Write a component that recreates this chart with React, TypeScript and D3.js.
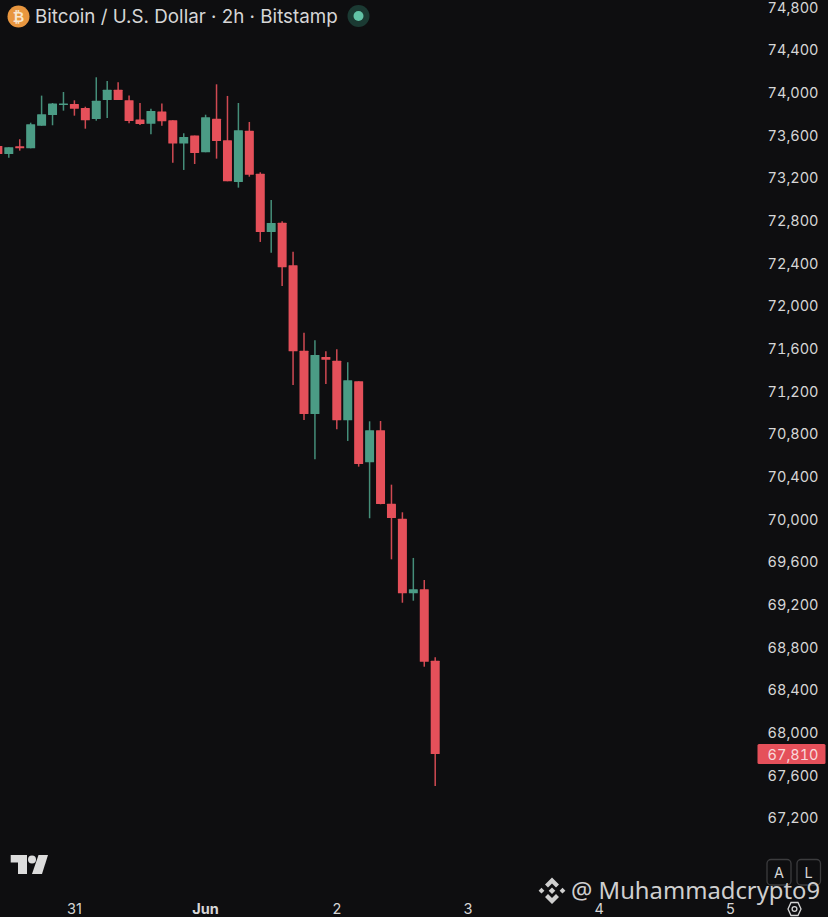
import React from "react";
import * as d3 from "d3";

const barIndex = [-19,-18,-17,-16,-15,-14,-13,-12,-11,-10,-9,-8,-7,-6,-5,-4,-3,-2,-1,0,1,2,3,4,5,6,7,8,9,10,11,12,13,14,15,16,17,18,19,20,21];
const opens = [73497,73422,73494,73475,73687,73788,73884,73891,73853,73750,73928,74025,73925,73744,73706,73819,73738,73519,73594,73438,73753,73550,73159,73640,73237,72690,72778,72378,71577,70984,71518,71484,70925,71290,70531,70831,70143,70002,69303,69340,68671];
const closes = [73422,73485,73475,73700,73794,73894,73894,73847,73738,73922,74025,73928,73731,73703,73825,73729,73519,73581,73431,73766,73544,73166,73644,73228,72690,72775,72359,71572,70984,71537,71493,70925,71300,70515,70831,70140,70009,69303,69340,68661,67795];
const highs = [73497,73485,73560,73715,73969,73900,74003,73925,73865,74141,74106,74094,73969,73900,73847,73894,73738,73616,73594,73790,74075,73966,73900,73722,73250,72991,72791,72506,71746,71675,71572,71591,71469,71290,70915,70918,70321,70062,69634,69427,68702];
const lows = [73422,73387,73453,73475,73687,73691,73828,73781,73659,73734,73759,73928,73710,73694,73607,73687,73340,73272,73328,73438,73378,73166,73106,73209,72597,72496,72184,71256,70928,70559,71265,70840,70731,70490,70006,70137,69621,69214,69233,68614,67496];
const priceTicks = [74800,74400,74000,73600,73200,72800,72400,72000,71600,71200,70800,70400,70000,69600,69200,68800,68400,68000,67600,67200];
const dateLabels = ["31","Jun","2","3","4","5"];
const dateBars = [-12,0,12,24,36,48];
const lastPrice = 67810;
const title = "Bitcoin / U.S. Dollar · 2h · Bitstamp";
const watermark = "@ Muhammadcrypto9";

const BG = "#0e0e10";
const UP = "#4b9c85";
const DOWN = "#e5505a";
const TEXT = "#d6d6d6";
const FONT = "Inter, Roboto, 'Noto Sans', sans-serif";
const TABULAR = { fontVariantNumeric: "tabular-nums" } as const;

export default function App() {
  const x = d3.scaleLinear().domain([0, 48]).range([205.6, 730.4]);
  const y = d3.scaleLinear().domain([74800, 67200]).range([7, 817.5]);
  const fmt = d3.format(",");
  const bw = 9;
  return (
    <svg width={828} height={917} viewBox="0 0 828 917" style={{ position: "absolute", left: 0, top: 0, display: "block" }} fontFamily={FONT}>
      <rect width={828} height={917} fill={BG} />
      {barIndex.map((b, i) => {
        const up = closes[i] >= opens[i];
        const c = up ? UP : DOWN;
        const top = y(Math.max(opens[i], closes[i]));
        const bot = y(Math.min(opens[i], closes[i]));
        return (
          <g key={b}>
            <line x1={x(b)} x2={x(b)} y1={y(highs[i])} y2={y(lows[i])} stroke={c} strokeOpacity={0.9} strokeWidth={1.5} />
            <rect x={x(b) - bw / 2} y={top} width={bw} height={Math.max(bot - top, 1.5)} fill={c} rx={0.5} />
          </g>
        );
      })}
      {priceTicks.map((p) => (
        <text key={p} x={818.5} y={y(p) + 0.5} dy="0.36em" textAnchor="end" fontSize={14.5} fill={TEXT} style={TABULAR}>{fmt(p)}</text>
      ))}
      <rect x={757.5} y={744} width={68} height={20} rx={1.5} fill={DOWN} />
      <text x={818.5} y={754.5} dy="0.36em" textAnchor="end" fontSize={14.5} fill="#f8d9db" style={TABULAR}>{fmt(lastPrice)}</text>
      {dateLabels.map((d, i) => (
        <text key={d} x={x(dateBars[i])} y={914} textAnchor="middle" fontSize={14.5} fontWeight={d === "Jun" ? 700 : 400} fill={TEXT}>{d}</text>
      ))}

      <circle cx={18.5} cy={16.5} r={11} fill="#e8963f" />
      <text x={18.5} y={21.5} textAnchor="middle" fontSize={14} fontWeight={700} fill="#f8e6cf" fontFamily="'DejaVu Sans', sans-serif">₿</text>
      <text x={35} y={23} fontSize={18.8} fill={TEXT}>{title}</text>
      <circle cx={358.5} cy={16} r={11} fill="#1b3a33" />
      <circle cx={358.5} cy={16} r={5} fill="#62c2a6" />

      <path d="M10.7 855H27V874H18V862.5H10.7Z" fill="#dcdcdc" />
      <circle cx={32} cy={859.5} r={4} fill="#dcdcdc" />
      <path d="M38.5 855H48L42 874H32Z" fill="#dcdcdc" />

      <rect x={767} y={859.5} width={24} height={25.5} rx={4} fill="none" stroke="#3c3c3e" strokeWidth={1.3} />
      <text x={779} y={878} textAnchor="middle" fontSize={14.5} fill={TEXT}>A</text>
      <rect x={797} y={859.5} width={23.5} height={25.5} rx={4} fill="none" stroke="#3c3c3e" strokeWidth={1.3} />
      <text x={808.5} y={878} textAnchor="middle" fontSize={14.5} fill={TEXT}>L</text>
      <path d="M788 909l3-6.5h7l3 6.5-3 6.5h-7Z" fill="none" stroke={TEXT} strokeWidth={1.3} />
      <circle cx={794.5} cy={909} r={2.4} fill="none" stroke={TEXT} strokeWidth={1.3} />

      <g fill="#cfcfcf">
        <path d="M552 877.5l7 7-3 3-4-4-4 4-3-3Z" />
        <path d="M552 904l7-7-3-3-4 4-4-4-3 3Z" />
        <path d="M552 887.4l3.3 3.3-3.3 3.3-3.3-3.3Z" />
        <path d="M541.5 887.8l2.9 2.9-2.9 2.9-2.9-2.9Z" />
        <path d="M562.5 887.8l2.9 2.9-2.9 2.9-2.9-2.9Z" />
      </g>
      <text x={571} y={899} fontSize={23.8} fill="#cfcfcf" fontFamily="'Noto Sans', sans-serif">{watermark}</text>
    </svg>
  );
}
